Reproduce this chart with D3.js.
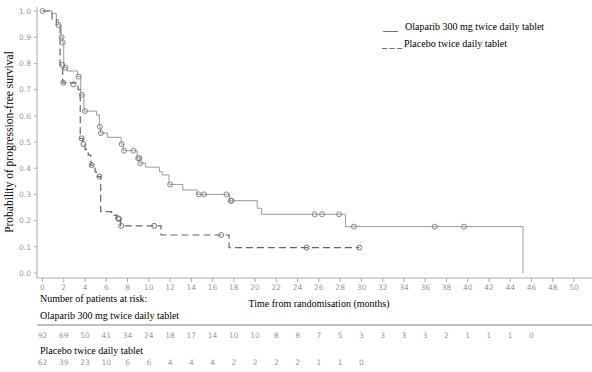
<!DOCTYPE html>
<html>
<head>
<meta charset="utf-8">
<script src="https://cdn.jsdelivr.net/npm/d3@7"></script>
<style>
  body { margin: 0; background: #fff; }
  .serif { font-family: "Liberation Serif", "Times New Roman", serif; fill: #000; }
  .tick-label { font-family: "DejaVu Sans", sans-serif; font-size: 7.5px; fill: #999; }
</style>
</head>
<body>
<div id="chart"></div>
<script>
// Kaplan-Meier steps: [time (months), survival after the drop]
const olaparibSteps = [
  [0, 1.0], [0.9, 0.99], [1.3, 0.967], [1.5, 0.947], [1.75, 0.9], [1.9, 0.88],
  [2.0, 0.784], [2.3, 0.771], [3.3, 0.75], [3.6, 0.68], [3.9, 0.618], [5.1, 0.603],
  [5.35, 0.558], [5.45, 0.534], [6.1, 0.518], [7.4, 0.492], [7.6, 0.467], [8.9, 0.438],
  [9.15, 0.419], [9.7, 0.404], [11.0, 0.387], [11.25, 0.374], [11.9, 0.338], [13.2, 0.317],
  [14.55, 0.30], [17.6, 0.276], [20.2, 0.247], [20.6, 0.224], [28.5, 0.177], [45.2, 0.0]
];
const olaparibEnd = 45.2;
const olaparibCensored = [
  [0, 1.0], [1.5, 0.947], [1.8, 0.9], [1.9, 0.88], [2.15, 0.784], [3.4, 0.75], [3.7, 0.68],
  [4.0, 0.618], [5.4, 0.558], [5.5, 0.534], [7.45, 0.492], [7.67, 0.467], [8.55, 0.467],
  [9.0, 0.438], [9.1, 0.438], [9.2, 0.419], [12.0, 0.338], [14.7, 0.30], [15.2, 0.30],
  [17.3, 0.30], [17.7, 0.276], [17.8, 0.276], [25.6, 0.224], [26.3, 0.224], [27.9, 0.224],
  [29.3, 0.177], [36.9, 0.177], [39.65, 0.177]
];

const placeboSteps = [
  [0, 1.0], [0.9, 0.967], [1.3, 0.947], [1.65, 0.794], [1.9, 0.726], [3.35, 0.70],
  [3.55, 0.514], [3.8, 0.492], [4.0, 0.472], [4.3, 0.45], [4.55, 0.412], [4.94, 0.387],
  [5.05, 0.368], [5.47, 0.234], [6.5, 0.221], [7.0, 0.209], [7.35, 0.18], [11.15, 0.145],
  [17.55, 0.097]
];
const placeboEnd = 29.8;
const placeboCensored = [
  [1.86, 0.794], [1.96, 0.726], [2.9, 0.72], [3.68, 0.514], [3.85, 0.492], [4.63, 0.412],
  [5.35, 0.368], [7.1, 0.209], [7.2, 0.206], [7.4, 0.18], [10.5, 0.18], [16.8, 0.145],
  [24.85, 0.097], [29.8, 0.097]
];

const xTicks = d3.range(0, 51, 2);
const yTicks = d3.range(0, 1.01, 0.1);
const riskTimes = d3.range(0, 47, 2);
const olaparibAtRisk = [92, 69, 50, 41, 34, 24, 18, 17, 14, 10, 10, 8, 8, 7, 5, 3, 3, 3, 3, 2, 1, 1, 1, 0];
const placeboAtRisk = [62, 39, 23, 10, 6, 6, 4, 4, 4, 2, 2, 2, 2, 1, 1, 0];

const legendLabels = ["Olaparib 300 mg twice daily tablet", "Placebo twice daily tablet"];

const width = 592, height = 372;
const axisGrey = "#aaa";

const svg = d3.select("#chart").append("svg")
  .attr("width", width)
  .attr("height", height);

const x = d3.scaleLinear().domain([0, 50]).range([42.5, 574]);
const y = d3.scaleLinear().domain([0, 1]).range([273, 11]);

// axes lines
svg.append("line")
  .attr("x1", 37).attr("x2", 37).attr("y1", 7).attr("y2", 278)
  .attr("stroke", axisGrey);
svg.append("line")
  .attr("x1", 37).attr("x2", 592).attr("y1", 278).attr("y2", 278)
  .attr("stroke", axisGrey);

// y ticks
const yt = svg.append("g").selectAll("g").data(yTicks).enter().append("g");
yt.append("line")
  .attr("x1", 34).attr("x2", 37)
  .attr("y1", d => y(d)).attr("y2", d => y(d))
  .attr("stroke", axisGrey);
yt.append("text")
  .attr("class", "tick-label")
  .attr("x", 31).attr("y", d => y(d) + 2.7)
  .attr("text-anchor", "end")
  .text(d => d3.format(".1f")(d));

// x ticks
const xt = svg.append("g").selectAll("g").data(xTicks).enter().append("g");
xt.append("line")
  .attr("x1", d => x(d)).attr("x2", d => x(d))
  .attr("y1", 278).attr("y2", 282)
  .attr("stroke", axisGrey);
xt.append("text")
  .attr("class", "tick-label")
  .attr("x", d => x(d)).attr("y", 290)
  .attr("text-anchor", "middle")
  .text(d => d);

function stepPath(steps, end) {
  const pts = [];
  steps.forEach(([t, s], i) => {
    if (i > 0) pts.push([t, steps[i - 1][1]]);
    pts.push([t, s]);
  });
  pts.push([end, steps[steps.length - 1][1]]);
  return d3.line().x(d => x(d[0])).y(d => y(d[1]))(pts);
}

svg.append("path")
  .attr("d", stepPath(olaparibSteps, olaparibEnd))
  .attr("fill", "none")
  .attr("stroke", "#999")
  .attr("stroke-width", 1);

svg.append("path")
  .attr("d", stepPath(placeboSteps, placeboEnd))
  .attr("fill", "none")
  .attr("stroke", "#666")
  .attr("stroke-width", 1.2)
  .attr("stroke-dasharray", "7,4");

svg.append("g").selectAll("circle")
  .data(olaparibCensored).enter().append("circle")
  .attr("cx", d => x(d[0])).attr("cy", d => y(d[1]))
  .attr("r", 2.5)
  .attr("fill", "none")
  .attr("stroke", "#888");

svg.append("g").selectAll("circle")
  .data(placeboCensored).enter().append("circle")
  .attr("cx", d => x(d[0])).attr("cy", d => y(d[1]))
  .attr("r", 2.5)
  .attr("fill", "none")
  .attr("stroke", "#777");

// legend
svg.append("text").attr("class", "serif").attr("x", 383).attr("y", 30)
  .style("font-size", "10px").text("___");
svg.append("text").attr("class", "serif").attr("x", 405).attr("y", 30)
  .style("font-size", "10px").text(legendLabels[0]);
svg.append("text").attr("class", "serif").attr("x", 382).attr("y", 47)
  .style("font-size", "10px").text("_ _ _");
svg.append("text").attr("class", "serif").attr("x", 404).attr("y", 47)
  .style("font-size", "10px").text(legendLabels[1]);

// axis titles
svg.append("text").attr("class", "serif")
  .attr("transform", "translate(13,142) rotate(-90)")
  .attr("text-anchor", "middle")
  .style("font-size", "11.5px")
  .text("Probability of progression-free survival");

svg.append("text").attr("class", "serif")
  .attr("x", 319).attr("y", 307)
  .attr("text-anchor", "middle")
  .style("font-size", "10px")
  .text("Time from randomisation (months)");

// risk table
svg.append("text").attr("class", "serif").attr("x", 40).attr("y", 302)
  .style("font-size", "10px").text("Number of patients at risk:");
svg.append("text").attr("class", "serif").attr("x", 40).attr("y", 319)
  .style("font-size", "10px").text(legendLabels[0]);
svg.append("line")
  .attr("x1", 37).attr("x2", 592).attr("y1", 325).attr("y2", 325)
  .attr("stroke", "#aaa").attr("stroke-width", 1.5);

svg.append("g").selectAll("text")
  .data(olaparibAtRisk).enter().append("text")
  .attr("class", "tick-label")
  .attr("x", (d, i) => x(riskTimes[i])).attr("y", 338)
  .attr("text-anchor", "middle")
  .text(d => d);

svg.append("text").attr("class", "serif").attr("x", 40).attr("y", 354)
  .style("font-size", "10px").text(legendLabels[1]);

svg.append("g").selectAll("text")
  .data(placeboAtRisk).enter().append("text")
  .attr("class", "tick-label")
  .attr("x", (d, i) => x(riskTimes[i])).attr("y", 365)
  .attr("text-anchor", "middle")
  .text(d => d);
</script>
</body>
</html>
